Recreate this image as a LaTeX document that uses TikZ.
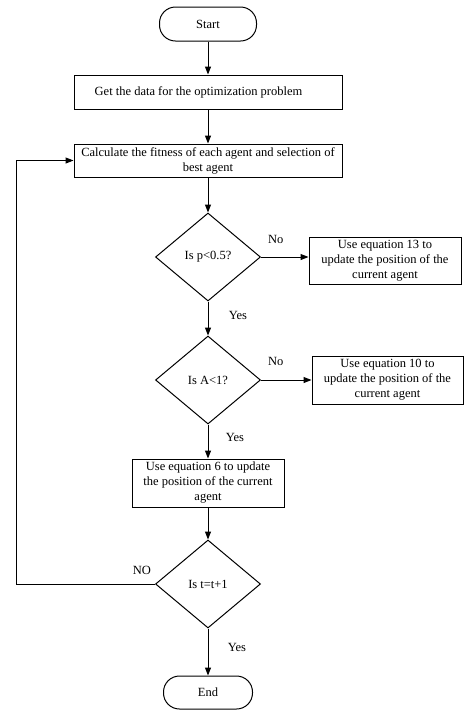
\documentclass[tikz,border=0pt]{standalone}
\usepackage{fontspec}
\setmainfont{Liberation Serif}
\usetikzlibrary{shapes.geometric,arrows.meta}
\begin{document}
\begin{tikzpicture}[x=1pt,y=-1pt,
  font=\fontsize{12.5}{15}\selectfont,
  line width=1pt,
  proc/.style={draw, rectangle, align=center, inner xsep=2pt, inner ysep=1pt},
  term/.style={draw, rectangle, rounded corners=16pt, minimum width=97pt, minimum height=34pt},
  dec/.style={draw, diamond, minimum width=105pt, minimum height=88pt, inner sep=0pt, aspect=1.19},
  arr/.style={-{Triangle[length=8pt,width=6pt]}},
  lbl/.style={inner sep=0pt}
]
\useasboundingbox (0,0) rectangle (474,716);
\node[term] (start) at (208,24) {Start};
\node[proc, minimum width=268pt, minimum height=34pt] (get) at (208,92) {Get the data for the optimization problem\hspace*{19pt}};
\node[proc, minimum width=268pt, minimum height=33pt] (calc) at (208,160.5) {Calculate the fitness of each agent and selection of\\best agent};
\node[dec] (d1) at (208,257) {Is p<0.5?};
\node[proc, minimum width=152pt, minimum height=47pt] (b13) at (385,260.5) {Use equation 13 to\\update the position of the\\current agent};
\node[dec] (d2) at (208,380) {Is A<1?};
\node[proc, minimum width=151pt, minimum height=48pt] (b10) at (387.5,380) {Use equation 10 to\\update the position of the\\current agent};
\node[proc, minimum width=152pt, minimum height=48pt] (b6) at (208,483) {Use equation 6 to update\\the position of the current\\agent};
\node[dec] (d3) at (208,584) {Is t=t+1};
\node[term, minimum width=89pt, minimum height=33pt] (end) at (208,692.5) {End};
\coordinate (loop) at (16,584);
\draw[arr] (start) -- (get);
\draw[arr] (get) -- (calc);
\draw[arr] (calc) -- (d1);
\draw[arr] (d1.east) -- node[lbl,pos=0.31,yshift=18pt]{No} (d1.east -| b13.west);
\draw[arr] (d1) -- node[lbl,pos=0.4,xshift=30pt]{Yes} (d2);
\draw[arr] (d2.east) -- node[lbl,pos=0.29,yshift=19pt]{No} (d2.east -| b10.west);
\draw[arr] (d2) -- node[lbl,pos=0.37,xshift=27pt]{Yes} (b6);
\draw[arr] (b6) -- (d3);
\draw[arr] (d3) -- node[lbl,pos=0.4,xshift=29pt]{Yes} (end);
\draw[arr] (d3.west) -- node[lbl,pos=0.094,yshift=14pt]{NO} (loop) |- (calc.west);
\end{tikzpicture}
\end{document}
